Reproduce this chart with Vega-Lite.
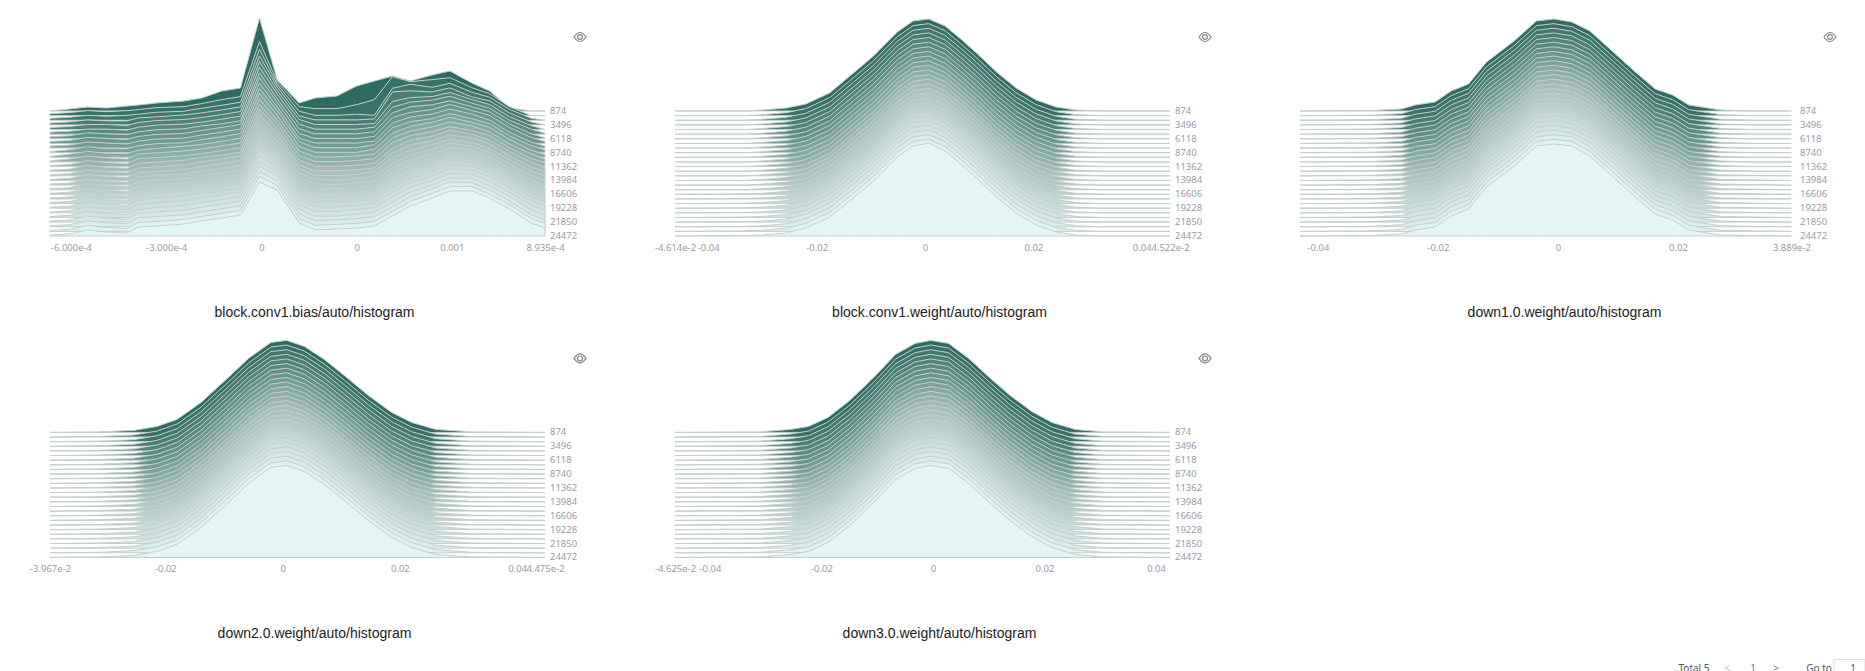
{"$schema":"https://vega.github.io/schema/vega-lite/v6.json","padding":{"left":29,"top":16,"right":0,"bottom":0},"background":"white","columns":3,"spacing":{"row":17.4,"column":65},
"config":{"view":{"stroke":null},"range":{"ordinal":["#2e6b60","#377167","#3f776d","#487d74","#51837a","#598981","#628f88","#6b958e","#739c95","#7ca29b","#85a8a2","#8daea8","#96b4af","#9fbab6","#a5bfbb","#aac3c0","#afc8c4","#b4ccc9","#b8d0cd","#bdd4d1","#c2d8d6","#c6ddda","#cbe1df","#d0e5e3","#d5e9e8","#d9edec","#def2f1","#e3f6f5"]},"axisX":{"domain":false,"ticks":false,"grid":false,"labelColor":"#9a9aa5","labelFont":"Noto Sans","labelFontSize":9.5,"labelOverlap":false,"labelFlush":false,"labelPadding":5,"labelAngle":0,"titleFont":"Liberation Sans","titleFontSize":14,"titleFontWeight":"normal","titleColor":"#222222","titlePadding":61,"titleX":264,"titleBaseline":"middle"},"header":{"title":null}},
"data":{"values":[
{"p":1,"x":-6.66e-4,"A":0,"B":2,"C":2,"D":2,"E":2,"F":2,"G":2,"H":2,"I":2,"J":1,"K":1,"L":1,"M":1,"N":1,"O":1,"P":1,"Q":1,"R":1,"S":1,"T":1,"U":1,"V":1,"W":1,"X":1,"Y":1,"Z":1,"a":1,"b":1},
{"p":1,"x":-6.06e-4,"A":2,"B":3,"C":3,"D":3,"E":3,"F":3,"G":3,"H":3,"I":3,"J":3,"K":3,"L":3,"M":2,"N":2,"O":2,"P":2,"Q":2,"R":2,"S":2,"T":2,"U":2,"V":2,"W":2,"X":2,"Y":2,"Z":2,"a":2,"b":2},
{"p":1,"x":-5.48e-4,"A":4,"B":5,"C":5,"D":5,"E":5,"F":5,"G":6,"H":6,"I":6,"J":6,"K":6,"L":6,"M":6,"N":6,"O":6,"P":6,"Q":6,"R":6,"S":6,"T":6,"U":6,"V":6,"W":6,"X":6,"Y":6,"Z":6,"a":6,"b":6},
{"p":1,"x":-4.88e-4,"A":3,"B":4,"C":4,"D":4,"E":5,"F":5,"G":5,"H":5,"I":5,"J":4,"K":4,"L":4,"M":4,"N":4,"O":4,"P":4,"Q":4,"R":4,"S":4,"T":4,"U":4,"V":4,"W":4,"X":4,"Y":4,"Z":4,"a":4,"b":4},
{"p":1,"x":-4.23e-4,"A":5,"B":5,"C":5,"D":4,"E":4,"F":4,"G":4,"H":4,"I":4,"J":4,"K":4,"L":3,"M":3,"N":3,"O":3,"P":3,"Q":3,"R":3,"S":3,"T":3,"U":3,"V":3,"W":3,"X":3,"Y":3,"Z":3,"a":3,"b":3},
{"p":1,"x":-3.88e-4,"A":6,"B":6,"C":6,"D":7,"E":7,"F":7,"G":7,"H":7,"I":7,"J":7,"K":7,"L":8,"M":8,"N":8,"O":8,"P":8,"Q":8,"R":8,"S":8,"T":8,"U":8,"V":8,"W":8,"X":8,"Y":9,"Z":9,"a":9,"b":9},
{"p":1,"x":-3.31e-4,"A":8,"B":8,"C":8,"D":8,"E":9,"F":9,"G":9,"H":9,"I":9,"J":9,"K":9,"L":9,"M":9,"N":9,"O":9,"P":9,"Q":10,"R":10,"S":10,"T":10,"U":10,"V":10,"W":10,"X":10,"Y":10,"Z":10,"a":10,"b":10},
{"p":1,"x":-2.44e-4,"A":10,"B":9,"C":9,"D":10,"E":10,"F":10,"G":10,"H":10,"I":10,"J":10,"K":11,"L":11,"M":11,"N":11,"O":11,"P":11,"Q":11,"R":11,"S":11,"T":11,"U":12,"V":12,"W":12,"X":12,"Y":12,"Z":12,"a":12,"b":12},
{"p":1,"x":-1.88e-4,"A":13,"B":12,"C":12,"D":12,"E":12,"F":12,"G":13,"H":13,"I":13,"J":13,"K":13,"L":13,"M":13,"N":14,"O":14,"P":14,"Q":14,"R":14,"S":14,"T":14,"U":14,"V":15,"W":15,"X":15,"Y":15,"Z":15,"a":15,"b":15},
{"p":1,"x":-1.25e-4,"A":20,"B":16,"C":15,"D":15,"E":15,"F":15,"G":15,"H":16,"I":16,"J":16,"K":16,"L":16,"M":16,"N":16,"O":17,"P":17,"Q":17,"R":17,"S":17,"T":17,"U":17,"V":17,"W":18,"X":18,"Y":18,"Z":18,"a":18,"b":18},
{"p":1,"x":-0.66e-4,"A":23,"B":19,"C":18,"D":18,"E":18,"F":18,"G":18,"H":19,"I":19,"J":19,"K":19,"L":19,"M":19,"N":19,"O":20,"P":20,"Q":20,"R":20,"S":20,"T":20,"U":20,"V":20,"W":21,"X":21,"Y":21,"Z":21,"a":21,"b":21},
{"p":1,"x":-0.06e-4,"A":93,"B":74,"C":71,"D":69,"E":68,"F":67,"G":66,"H":66,"I":65,"J":64,"K":64,"L":63,"M":62,"N":62,"O":61,"P":61,"Q":60,"R":60,"S":59,"T":59,"U":58,"V":58,"W":57,"X":56,"Y":56,"Z":55,"a":55,"b":54},
{"p":1,"x":0.50e-4,"A":31,"B":34,"C":36,"D":38,"E":39,"F":40,"G":40,"H":41,"I":41,"J":42,"K":42,"L":42,"M":43,"N":43,"O":43,"P":44,"Q":44,"R":44,"S":44,"T":45,"U":45,"V":45,"W":45,"X":45,"Y":46,"Z":46,"a":46,"b":46},
{"p":1,"x":1.19e-4,"A":8,"B":9,"C":9,"D":9,"E":10,"F":10,"G":10,"H":10,"I":10,"J":11,"K":11,"L":11,"M":11,"N":11,"O":11,"P":12,"Q":12,"R":12,"S":12,"T":12,"U":12,"V":12,"W":13,"X":13,"Y":13,"Z":13,"a":13,"b":13},
{"p":1,"x":1.69e-4,"A":13,"B":7,"C":5,"D":5,"E":5,"F":5,"G":5,"H":5,"I":5,"J":5,"K":5,"L":5,"M":5,"N":5,"O":5,"P":5,"Q":6,"R":6,"S":6,"T":6,"U":6,"V":6,"W":6,"X":6,"Y":6,"Z":6,"a":6,"b":6},
{"p":1,"x":2.38e-4,"A":15,"B":7,"C":5,"D":5,"E":5,"F":5,"G":5,"H":5,"I":5,"J":5,"K":5,"L":5,"M":5,"N":5,"O":5,"P":5,"Q":5,"R":5,"S":6,"T":6,"U":6,"V":6,"W":6,"X":6,"Y":6,"Z":7,"a":7,"b":7},
{"p":1,"x":3.00e-4,"A":25,"B":11,"C":6,"D":5,"E":5,"F":5,"G":5,"H":5,"I":5,"J":5,"K":5,"L":6,"M":6,"N":6,"O":6,"P":6,"Q":7,"R":7,"S":7,"T":7,"U":7,"V":7,"W":7,"X":8,"Y":8,"Z":8,"a":8,"b":8},
{"p":1,"x":3.56e-4,"A":30,"B":16,"C":5,"D":6,"E":6,"F":7,"G":7,"H":7,"I":7,"J":8,"K":8,"L":8,"M":8,"N":8,"O":8,"P":9,"Q":9,"R":9,"S":9,"T":9,"U":9,"V":9,"W":10,"X":10,"Y":10,"Z":10,"a":10,"b":10},
{"p":1,"x":4.13e-4,"A":35,"B":39,"C":32,"D":33,"E":28,"F":27,"G":26,"H":26,"I":25,"J":25,"K":24,"L":24,"M":24,"N":23,"O":23,"P":23,"Q":22,"R":22,"S":22,"T":22,"U":21,"V":21,"W":21,"X":21,"Y":20,"Z":20,"a":20,"b":20},
{"p":1,"x":4.69e-4,"A":30,"B":34,"C":36,"D":34,"E":32,"F":32,"G":32,"H":31,"I":31,"J":31,"K":31,"L":31,"M":31,"N":31,"O":31,"P":30,"Q":30,"R":30,"S":30,"T":30,"U":30,"V":30,"W":30,"X":30,"Y":30,"Z":30,"a":30,"b":30},
{"p":1,"x":5.38e-4,"A":36,"B":36,"C":33,"D":33,"E":33,"F":34,"G":34,"H":34,"I":34,"J":34,"K":35,"L":35,"M":35,"N":35,"O":35,"P":36,"Q":36,"R":36,"S":36,"T":36,"U":37,"V":37,"W":37,"X":37,"Y":37,"Z":38,"a":38,"b":38},
{"p":1,"x":5.94e-4,"A":40,"B":38,"C":37,"D":37,"E":37,"F":38,"G":38,"H":39,"I":39,"J":39,"K":40,"L":40,"M":40,"N":41,"O":41,"P":41,"Q":42,"R":42,"S":42,"T":43,"U":43,"V":43,"W":44,"X":44,"Y":44,"Z":45,"a":45,"b":45},
{"p":1,"x":6.63e-4,"A":28,"B":28,"C":28,"D":28,"E":30,"F":31,"G":32,"H":33,"I":34,"J":34,"K":35,"L":36,"M":36,"N":37,"O":38,"P":38,"Q":39,"R":40,"S":40,"T":41,"U":41,"V":42,"W":43,"X":43,"Y":44,"Z":44,"a":45,"b":45},
{"p":1,"x":7.19e-4,"A":20,"B":22,"C":23,"D":24,"E":25,"F":26,"G":27,"H":28,"I":28,"J":29,"K":30,"L":30,"M":31,"N":31,"O":32,"P":32,"Q":33,"R":33,"S":34,"T":34,"U":35,"V":35,"W":36,"X":36,"Y":36,"Z":37,"a":37,"b":38},
{"p":1,"x":7.81e-4,"A":3,"B":9,"C":11,"D":12,"E":13,"F":14,"G":15,"H":16,"I":16,"J":17,"K":18,"L":18,"M":19,"N":20,"O":20,"P":21,"Q":21,"R":22,"S":22,"T":23,"U":24,"V":24,"W":25,"X":25,"Y":26,"Z":26,"a":27,"b":27},
{"p":1,"x":8.50e-4,"A":0,"B":0,"C":2,"D":3,"E":4,"F":5,"G":5,"H":6,"I":6,"J":7,"K":7,"L":8,"M":8,"N":9,"O":9,"P":9,"Q":10,"R":10,"S":10,"T":11,"U":11,"V":11,"W":12,"X":12,"Y":12,"Z":12,"a":13,"b":13},
{"p":1,"x":8.935e-4,"A":0,"B":0,"C":0,"D":0,"E":0,"F":1,"G":1,"H":2,"I":2,"J":3,"K":3,"L":3,"M":4,"N":4,"O":4,"P":5,"Q":5,"R":5,"S":6,"T":6,"U":6,"V":6,"W":7,"X":7,"Y":7,"Z":7,"a":8,"b":8},
{"p":2,"x":-0.04614,"A":0,"B":0,"C":0,"D":0,"E":0,"F":0,"G":0,"H":0,"I":0,"J":0,"K":0,"L":0,"M":0,"N":0,"O":0,"P":0,"Q":0,"R":0,"S":0,"T":0,"U":0,"V":0,"W":0,"X":0,"Y":0,"Z":0,"a":0,"b":0},
{"p":2,"x":-0.033,"A":0,"B":0,"C":0,"D":0,"E":0,"F":0,"G":0,"H":0,"I":0,"J":0,"K":0,"L":0,"M":0,"N":0,"O":0,"P":0,"Q":0,"R":0,"S":0.5,"T":0.5,"U":0.5,"V":0.5,"W":0.5,"X":0.5,"Y":0.5,"Z":0.5,"a":0.5,"b":0.5},
{"p":2,"x":-0.03,"A":1,"B":1,"C":1,"D":1,"E":1,"F":1,"G":1,"H":1,"I":1,"J":1,"K":1,"L":1,"M":1,"N":1,"O":1,"P":1,"Q":1,"R":1,"S":1,"T":1,"U":1,"V":1,"W":1,"X":1,"Y":1,"Z":1,"a":1,"b":1},
{"p":2,"x":-0.0256,"A":3,"B":3,"C":3,"D":3,"E":3,"F":3,"G":3,"H":3,"I":3,"J":3,"K":3,"L":3,"M":3,"N":3,"O":3,"P":3,"Q":3,"R":3,"S":3,"T":3,"U":3,"V":3,"W":3,"X":3,"Y":3,"Z":3,"a":3,"b":3},
{"p":2,"x":-0.022,"A":7,"B":7,"C":7,"D":7,"E":7,"F":7,"G":7,"H":7,"I":7,"J":7,"K":7,"L":7,"M":7,"N":7,"O":7,"P":7,"Q":7,"R":7,"S":7,"T":7,"U":7,"V":7,"W":7,"X":7,"Y":8,"Z":8,"a":8,"b":8},
{"p":2,"x":-0.0176,"A":18,"B":18,"C":18,"D":18,"E":18,"F":18,"G":18,"H":18,"I":18,"J":18,"K":18,"L":18,"M":18,"N":18,"O":19,"P":19,"Q":19,"R":19,"S":19,"T":19,"U":19,"V":19,"W":19,"X":19,"Y":19,"Z":19,"a":19,"b":19},
{"p":2,"x":-0.0132,"A":38,"B":38,"C":38,"D":38,"E":38,"F":38,"G":38,"H":38,"I":38,"J":38,"K":38,"L":38,"M":38,"N":38,"O":38,"P":38,"Q":38,"R":38,"S":38,"T":38,"U":38,"V":38,"W":38,"X":38,"Y":38,"Z":38,"a":38,"b":38},
{"p":2,"x":-0.0095,"A":55,"B":55,"C":55,"D":55,"E":55,"F":55,"G":55,"H":55,"I":55,"J":55,"K":55,"L":55,"M":55,"N":55,"O":55,"P":55,"Q":55,"R":55,"S":55,"T":55,"U":55,"V":55,"W":55,"X":55,"Y":55,"Z":55,"a":55,"b":55},
{"p":2,"x":-0.0051,"A":79,"B":79,"C":79,"D":79,"E":79,"F":79,"G":79,"H":79,"I":79,"J":79,"K":79,"L":79,"M":79,"N":79,"O":79,"P":79,"Q":79,"R":79,"S":79,"T":79,"U":79,"V":79,"W":79,"X":79,"Y":79,"Z":79,"a":79,"b":79},
{"p":2,"x":-0.0022,"A":90,"B":90,"C":90,"D":90,"E":90,"F":90,"G":90,"H":90,"I":90,"J":90,"K":90,"L":90,"M":90,"N":90,"O":90,"P":90,"Q":90,"R":90,"S":90,"T":90,"U":90,"V":90,"W":90,"X":90,"Y":90,"Z":90,"a":90,"b":90},
{"p":2,"x":0.0007,"A":92,"B":92,"C":92,"D":92,"E":92,"F":92,"G":92,"H":92,"I":92,"J":92,"K":92,"L":92,"M":92,"N":92,"O":92,"P":92,"Q":92,"R":92,"S":92,"T":92,"U":92,"V":92,"W":92,"X":92,"Y":92,"Z":92,"a":92,"b":93},
{"p":2,"x":0.0037,"A":85,"B":85,"C":85,"D":85,"E":85,"F":85,"G":85,"H":85,"I":85,"J":85,"K":85,"L":85,"M":85,"N":85,"O":85,"P":85,"Q":85,"R":85,"S":85,"T":85,"U":85,"V":85,"W":85,"X":85,"Y":85,"Z":85,"a":85,"b":85},
{"p":2,"x":0.0066,"A":72,"B":72,"C":72,"D":72,"E":72,"F":72,"G":72,"H":72,"I":72,"J":72,"K":72,"L":72,"M":72,"N":72,"O":72,"P":72,"Q":72,"R":72,"S":72,"T":72,"U":72,"V":72,"W":72,"X":72,"Y":72,"Z":72,"a":72,"b":72},
{"p":2,"x":0.0095,"A":58,"B":58,"C":58,"D":58,"E":58,"F":58,"G":58,"H":58,"I":58,"J":58,"K":58,"L":58,"M":58,"N":58,"O":58,"P":58,"Q":58,"R":58,"S":58,"T":58,"U":58,"V":58,"W":58,"X":58,"Y":58,"Z":58,"a":58,"b":58},
{"p":2,"x":0.0132,"A":39,"B":39,"C":39,"D":39,"E":39,"F":39,"G":39,"H":39,"I":39,"J":39,"K":39,"L":39,"M":39,"N":39,"O":39,"P":39,"Q":39,"R":39,"S":39,"T":39,"U":39,"V":39,"W":39,"X":39,"Y":39,"Z":39,"a":39,"b":39},
{"p":2,"x":0.0168,"A":23,"B":23,"C":23,"D":23,"E":23,"F":23,"G":23,"H":23,"I":23,"J":23,"K":23,"L":23,"M":23,"N":23,"O":23,"P":23,"Q":23,"R":23,"S":23,"T":23,"U":23,"V":23,"W":23,"X":23,"Y":23,"Z":23,"a":23,"b":23},
{"p":2,"x":0.0205,"A":11,"B":11,"C":11,"D":11,"E":11,"F":11,"G":11,"H":11,"I":11,"J":11,"K":11,"L":11,"M":11,"N":11,"O":11,"P":11,"Q":11,"R":11,"S":11,"T":11,"U":11,"V":11,"W":11,"X":11,"Y":11,"Z":11,"a":11,"b":11},
{"p":2,"x":0.0242,"A":4,"B":4,"C":4,"D":4,"E":4,"F":4,"G":4,"H":4,"I":4,"J":4,"K":4,"L":4,"M":4,"N":4,"O":4,"P":4,"Q":4,"R":4,"S":4,"T":4,"U":4,"V":4,"W":4,"X":4,"Y":4,"Z":4,"a":4,"b":4},
{"p":2,"x":0.0278,"A":1,"B":1,"C":1,"D":1,"E":1,"F":1,"G":1,"H":1,"I":1,"J":1,"K":1,"L":1,"M":1,"N":1,"O":1,"P":1,"Q":1,"R":1,"S":1,"T":1,"U":1,"V":1,"W":1,"X":1,"Y":1,"Z":1,"a":1,"b":1},
{"p":2,"x":0.033,"A":0,"B":0,"C":0,"D":0,"E":0,"F":0,"G":0,"H":0,"I":0,"J":0,"K":0,"L":0,"M":0,"N":0,"O":0,"P":0,"Q":0,"R":0,"S":0,"T":0,"U":0,"V":0,"W":0,"X":0,"Y":0,"Z":0,"a":0,"b":0},
{"p":2,"x":0.04522,"A":0,"B":0,"C":0,"D":0,"E":0,"F":0,"G":0,"H":0,"I":0,"J":0,"K":0,"L":0,"M":0,"N":0,"O":0,"P":0,"Q":0,"R":0,"S":0,"T":0,"U":0,"V":0,"W":0,"X":0,"Y":0,"Z":0,"a":0,"b":0},
{"p":3,"x":-0.043,"A":0,"B":0,"C":0,"D":0,"E":0,"F":0,"G":0,"H":0,"I":0,"J":0,"K":0,"L":0,"M":0,"N":0,"O":0,"P":0,"Q":0,"R":0,"S":0,"T":0,"U":0,"V":0,"W":0,"X":0,"Y":0,"Z":0,"a":0,"b":0},
{"p":3,"x":-0.031,"A":0.5,"B":0.5,"C":0.5,"D":0.5,"E":0.5,"F":0.5,"G":0.5,"H":0.5,"I":0.5,"J":0.5,"K":0.5,"L":0.5,"M":0.5,"N":0.5,"O":0.5,"P":0.5,"Q":0.5,"R":0.5,"S":0.5,"T":0.5,"U":0.5,"V":0.5,"W":0.5,"X":0.5,"Y":0.5,"Z":0.5,"a":0.5,"b":0.5},
{"p":3,"x":-0.0261,"A":2,"B":2,"C":2,"D":2,"E":2,"F":2,"G":2,"H":2,"I":2,"J":2,"K":2,"L":2,"M":2,"N":2,"O":2,"P":2,"Q":2,"R":2,"S":2,"T":2,"U":2,"V":2,"W":2,"X":2,"Y":2,"Z":2,"a":2,"b":2},
{"p":3,"x":-0.0238,"A":6,"B":6,"C":6,"D":6,"E":6,"F":6,"G":6,"H":6,"I":6,"J":6,"K":6,"L":6,"M":6,"N":6,"O":6,"P":6,"Q":6,"R":6,"S":6,"T":6,"U":6,"V":6,"W":6,"X":6,"Y":6,"Z":6,"a":6,"b":6},
{"p":3,"x":-0.0205,"A":9,"B":9,"C":9,"D":9,"E":9,"F":9,"G":9,"H":9,"I":9,"J":9,"K":9,"L":9,"M":9,"N":9,"O":9,"P":9,"Q":9,"R":9,"S":9,"T":9,"U":9,"V":9,"W":9,"X":9,"Y":9,"Z":9,"a":9,"b":9},
{"p":3,"x":-0.0178,"A":20,"B":20,"C":20,"D":20,"E":20,"F":20,"G":20,"H":20,"I":20,"J":20,"K":20,"L":20,"M":20,"N":20,"O":20,"P":20,"Q":20,"R":20,"S":20,"T":20,"U":20,"V":20,"W":20,"X":20,"Y":20,"Z":20,"a":20,"b":20},
{"p":3,"x":-0.0149,"A":27,"B":27,"C":27,"D":27,"E":27,"F":27,"G":27,"H":27,"I":27,"J":27,"K":27,"L":27,"M":27,"N":27,"O":27,"P":27,"Q":27,"R":27,"S":27,"T":27,"U":27,"V":27,"W":27,"X":27,"Y":27,"Z":27,"a":27,"b":27},
{"p":3,"x":-0.0119,"A":49,"B":49,"C":49,"D":49,"E":49,"F":49,"G":49,"H":49,"I":49,"J":49,"K":49,"L":49,"M":49,"N":49,"O":49,"P":49,"Q":49,"R":49,"S":49,"T":49,"U":49,"V":49,"W":49,"X":49,"Y":49,"Z":49,"a":49,"b":49},
{"p":3,"x":-0.0073,"A":70,"B":70,"C":70,"D":70,"E":70,"F":70,"G":70,"H":70,"I":70,"J":70,"K":70,"L":70,"M":70,"N":70,"O":70,"P":70,"Q":70,"R":70,"S":70,"T":70,"U":70,"V":70,"W":70,"X":70,"Y":70,"Z":70,"a":70,"b":70},
{"p":3,"x":-0.0036,"A":90,"B":90,"C":90,"D":90,"E":90,"F":90,"G":90,"H":90,"I":90,"J":90,"K":90,"L":90,"M":90,"N":90,"O":90,"P":90,"Q":90,"R":90,"S":90,"T":90,"U":90,"V":90,"W":90,"X":90,"Y":90,"Z":90,"a":90,"b":90},
{"p":3,"x":-0.0007,"A":92,"B":92,"C":92,"D":92,"E":92,"F":92,"G":92,"H":92,"I":92,"J":92,"K":92,"L":92,"M":92,"N":92,"O":92,"P":92,"Q":92,"R":92,"S":92,"T":92,"U":92,"V":92,"W":92,"X":92,"Y":92,"Z":92,"a":92,"b":92},
{"p":3,"x":0.0023,"A":89,"B":89,"C":89,"D":89,"E":89,"F":89,"G":89,"H":89,"I":89,"J":89,"K":89,"L":89,"M":89,"N":89,"O":89,"P":89,"Q":89,"R":89,"S":89,"T":89,"U":89,"V":89,"W":89,"X":89,"Y":89,"Z":90,"a":90,"b":90},
{"p":3,"x":0.0053,"A":80,"B":80,"C":80,"D":80,"E":80,"F":80,"G":80,"H":80,"I":80,"J":80,"K":80,"L":80,"M":80,"N":80,"O":80,"P":80,"Q":80,"R":80,"S":80,"T":80,"U":80,"V":80,"W":80,"X":80,"Y":80,"Z":80,"a":80,"b":80},
{"p":3,"x":0.0092,"A":59,"B":59,"C":59,"D":59,"E":59,"F":59,"G":59,"H":59,"I":59,"J":59,"K":59,"L":59,"M":59,"N":59,"O":59,"P":59,"Q":59,"R":59,"S":59,"T":59,"U":59,"V":59,"W":59,"X":59,"Y":59,"Z":59,"a":59,"b":59},
{"p":3,"x":0.0125,"A":41,"B":41,"C":41,"D":41,"E":41,"F":41,"G":41,"H":41,"I":41,"J":41,"K":41,"L":41,"M":41,"N":41,"O":41,"P":41,"Q":41,"R":41,"S":41,"T":41,"U":41,"V":41,"W":41,"X":41,"Y":41,"Z":41,"a":41,"b":41},
{"p":3,"x":0.0162,"A":22,"B":22,"C":22,"D":22,"E":22,"F":22,"G":22,"H":22,"I":22,"J":22,"K":22,"L":22,"M":22,"N":22,"O":22,"P":22,"Q":22,"R":22,"S":22,"T":22,"U":22,"V":22,"W":22,"X":22,"Y":22,"Z":22,"a":22,"b":22},
{"p":3,"x":0.0191,"A":16,"B":16,"C":16,"D":16,"E":16,"F":16,"G":16,"H":16,"I":16,"J":16,"K":16,"L":16,"M":16,"N":16,"O":16,"P":16,"Q":16,"R":16,"S":16,"T":16,"U":16,"V":16,"W":16,"X":16,"Y":16,"Z":16,"a":16,"b":16},
{"p":3,"x":0.0218,"A":6,"B":6,"C":6,"D":6,"E":6,"F":6,"G":6,"H":6,"I":6,"J":6,"K":6,"L":6,"M":6,"N":6,"O":6,"P":6,"Q":6,"R":6,"S":6,"T":6,"U":6,"V":6,"W":6,"X":6,"Y":6,"Z":6,"a":6,"b":6},
{"p":3,"x":0.0271,"A":1,"B":1,"C":1,"D":1,"E":1,"F":1,"G":1,"H":1,"I":1,"J":1,"K":1,"L":1,"M":1,"N":1,"O":1,"P":1,"Q":1,"R":1,"S":1,"T":1,"U":1,"V":1,"W":1,"X":1,"Y":1,"Z":1,"a":1,"b":1},
{"p":3,"x":0.0323,"A":0,"B":0,"C":0,"D":0,"E":0,"F":0,"G":0,"H":0,"I":0,"J":0,"K":0,"L":0,"M":0,"N":0,"O":0.5,"P":0.5,"Q":0.5,"R":0.5,"S":0.5,"T":0.5,"U":0.5,"V":0.5,"W":0.5,"X":0.5,"Y":0.5,"Z":0.5,"a":0.5,"b":0.5},
{"p":3,"x":0.03889,"A":0,"B":0,"C":0,"D":0,"E":0,"F":0,"G":0,"H":0,"I":0,"J":0,"K":0,"L":0,"M":0,"N":0,"O":0,"P":0,"Q":0,"R":0,"S":0,"T":0,"U":0,"V":0,"W":0,"X":0,"Y":0,"Z":0,"a":0,"b":0},
{"p":4,"x":-0.03967,"A":0,"B":0,"C":0,"D":0,"E":0,"F":0,"G":0,"H":0,"I":0,"J":0,"K":0,"L":0,"M":0,"N":0,"O":0,"P":0,"Q":0,"R":0,"S":0,"T":0,"U":0,"V":0,"W":0,"X":0,"Y":0,"Z":0,"a":0,"b":0},
{"p":4,"x":-0.0315,"A":0.5,"B":0.5,"C":0.5,"D":0.5,"E":0.5,"F":0.5,"G":0.5,"H":0.5,"I":0.5,"J":0.5,"K":0.5,"L":0.5,"M":0.5,"N":0.5,"O":0.5,"P":0.5,"Q":0.5,"R":0.5,"S":0.5,"T":0.5,"U":0.5,"V":0.5,"W":0.5,"X":0.5,"Y":0.5,"Z":0.5,"a":0.5,"b":0.5},
{"p":4,"x":-0.0254,"A":2,"B":2,"C":2,"D":2,"E":2,"F":2,"G":2,"H":2,"I":2,"J":2,"K":2,"L":2,"M":2,"N":2,"O":2,"P":2,"Q":2,"R":2,"S":2,"T":2,"U":2,"V":2,"W":2,"X":2,"Y":2,"Z":2,"a":2,"b":2},
{"p":4,"x":-0.0214,"A":6,"B":6,"C":6,"D":6,"E":6,"F":6,"G":6,"H":6,"I":6,"J":6,"K":6,"L":6,"M":6,"N":6,"O":6,"P":6,"Q":6,"R":6,"S":6,"T":6,"U":6,"V":6,"W":6,"X":6,"Y":6,"Z":6,"a":6,"b":6},
{"p":4,"x":-0.018,"A":13,"B":13,"C":13,"D":13,"E":13,"F":13,"G":13,"H":13,"I":13,"J":13,"K":13,"L":13,"M":13,"N":13,"O":13,"P":13,"Q":13,"R":13,"S":13,"T":13,"U":13,"V":13,"W":13,"X":13,"Y":13,"Z":13,"a":13,"b":13},
{"p":4,"x":-0.0139,"A":30,"B":30,"C":30,"D":30,"E":30,"F":30,"G":30,"H":30,"I":30,"J":30,"K":30,"L":30,"M":30,"N":30,"O":30,"P":30,"Q":30,"R":30,"S":30,"T":30,"U":30,"V":30,"W":30,"X":30,"Y":30,"Z":30,"a":30,"b":30},
{"p":4,"x":-0.0098,"A":52,"B":52,"C":52,"D":52,"E":52,"F":52,"G":52,"H":52,"I":52,"J":52,"K":52,"L":52,"M":52,"N":52,"O":52,"P":52,"Q":52,"R":52,"S":52,"T":52,"U":52,"V":52,"W":52,"X":52,"Y":52,"Z":52,"a":52,"b":52},
{"p":4,"x":-0.0058,"A":74,"B":74,"C":74,"D":74,"E":74,"F":74,"G":74,"H":74,"I":74,"J":74,"K":74,"L":74,"M":74,"N":74,"O":74,"P":74,"Q":74,"R":74,"S":74,"T":74,"U":74,"V":74,"W":74,"X":74,"Y":74,"Z":74,"a":74,"b":74},
{"p":4,"x":-0.002,"A":90,"B":90,"C":90,"D":90,"E":90,"F":90,"G":90,"H":90,"I":90,"J":90,"K":90,"L":90,"M":90,"N":90,"O":90,"P":90,"Q":90,"R":90,"S":90,"T":90,"U":90,"V":90,"W":90,"X":90,"Y":90,"Z":90,"a":90,"b":90},
{"p":4,"x":0.0007,"A":92,"B":92,"C":92,"D":92,"E":92,"F":92,"G":92,"H":92,"I":92,"J":92,"K":92,"L":92,"M":92,"N":92,"O":92,"P":92,"Q":92,"R":92,"S":92,"T":92,"U":92,"V":92,"W":92,"X":92,"Y":92,"Z":92,"a":92,"b":92},
{"p":4,"x":0.0037,"A":86,"B":86,"C":86,"D":86,"E":86,"F":86,"G":86,"H":86,"I":86,"J":86,"K":86,"L":86,"M":86,"N":86,"O":86,"P":86,"Q":86,"R":86,"S":86,"T":86,"U":86,"V":86,"W":86,"X":86,"Y":86,"Z":86,"a":86,"b":86},
{"p":4,"x":0.0071,"A":73,"B":73,"C":73,"D":73,"E":73,"F":73,"G":73,"H":73,"I":73,"J":73,"K":73,"L":73,"M":73,"N":73,"O":73,"P":73,"Q":73,"R":73,"S":73,"T":73,"U":73,"V":73,"W":73,"X":73,"Y":73,"Z":73,"a":73,"b":73},
{"p":4,"x":0.0105,"A":57,"B":57,"C":57,"D":57,"E":57,"F":57,"G":57,"H":57,"I":57,"J":57,"K":57,"L":57,"M":57,"N":57,"O":57,"P":57,"Q":57,"R":57,"S":57,"T":57,"U":57,"V":57,"W":57,"X":57,"Y":57,"Z":57,"a":57,"b":57},
{"p":4,"x":0.0146,"A":37,"B":37,"C":37,"D":37,"E":37,"F":37,"G":37,"H":37,"I":37,"J":37,"K":37,"L":37,"M":37,"N":37,"O":37,"P":37,"Q":37,"R":37,"S":37,"T":37,"U":37,"V":37,"W":37,"X":37,"Y":37,"Z":37,"a":37,"b":37},
{"p":4,"x":0.0186,"A":20,"B":20,"C":20,"D":20,"E":20,"F":20,"G":20,"H":20,"I":20,"J":20,"K":20,"L":20,"M":20,"N":20,"O":20,"P":20,"Q":20,"R":20,"S":20,"T":20,"U":20,"V":20,"W":20,"X":20,"Y":20,"Z":20,"a":20,"b":20},
{"p":4,"x":0.022,"A":10,"B":10,"C":10,"D":10,"E":10,"F":10,"G":10,"H":10,"I":10,"J":10,"K":10,"L":10,"M":10,"N":10,"O":10,"P":10,"Q":10,"R":10,"S":10,"T":10,"U":10,"V":10,"W":10,"X":10,"Y":10,"Z":10,"a":10,"b":10},
{"p":4,"x":0.0261,"A":3,"B":3,"C":3,"D":3,"E":3,"F":3,"G":3,"H":3,"I":3,"J":3,"K":3,"L":3,"M":3,"N":3,"O":3,"P":3,"Q":3,"R":3,"S":3,"T":3,"U":3,"V":3,"W":3,"X":3,"Y":3,"Z":3,"a":3,"b":3},
{"p":4,"x":0.0322,"A":0.5,"B":0.5,"C":0.5,"D":0.5,"E":0.5,"F":0.5,"G":0.5,"H":0.5,"I":0.5,"J":0.5,"K":0.5,"L":0.5,"M":0.5,"N":0.5,"O":0.5,"P":0.5,"Q":0.5,"R":0.5,"S":0.5,"T":0.5,"U":0.5,"V":0.5,"W":0.5,"X":0.5,"Y":0.5,"Z":0.5,"a":0.5,"b":0.5},
{"p":4,"x":0.04475,"A":0,"B":0,"C":0,"D":0,"E":0,"F":0,"G":0,"H":0,"I":0,"J":0,"K":0,"L":0,"M":0,"N":0,"O":0,"P":0,"Q":0,"R":0,"S":0,"T":0,"U":0,"V":0,"W":0,"X":0,"Y":0,"Z":0,"a":0,"b":0},
{"p":5,"x":-0.04625,"A":0,"B":0,"C":0,"D":0,"E":0,"F":0,"G":0,"H":0,"I":0,"J":0,"K":0,"L":0,"M":0,"N":0,"O":0,"P":0,"Q":0,"R":0,"S":0,"T":0,"U":0,"V":0,"W":0,"X":0,"Y":0,"Z":0,"a":0,"b":0},
{"p":5,"x":-0.0312,"A":0.5,"B":0.5,"C":0.5,"D":0.5,"E":0.5,"F":0.5,"G":0.5,"H":0.5,"I":0.5,"J":0.5,"K":0.5,"L":0.5,"M":0.5,"N":0.5,"O":0.5,"P":0.5,"Q":0.5,"R":0.5,"S":0.5,"T":0.5,"U":0.5,"V":0.5,"W":0.5,"X":0.5,"Y":0.5,"Z":0.5,"a":0.5,"b":0.5},
{"p":5,"x":-0.0255,"A":3,"B":3,"C":3,"D":3,"E":3,"F":3,"G":3,"H":3,"I":3,"J":3,"K":3,"L":3,"M":3,"N":3,"O":3,"P":3,"Q":3,"R":3,"S":3,"T":3,"U":3,"V":3,"W":3,"X":3,"Y":3,"Z":3,"a":3,"b":3},
{"p":5,"x":-0.0223,"A":6,"B":6,"C":6,"D":6,"E":6,"F":6,"G":6,"H":6,"I":6,"J":6,"K":6,"L":6,"M":6,"N":6,"O":6,"P":6,"Q":6,"R":6,"S":6,"T":6,"U":6,"V":6,"W":6,"X":6,"Y":6,"Z":6,"a":6,"b":6},
{"p":5,"x":-0.0188,"A":15,"B":15,"C":15,"D":15,"E":15,"F":15,"G":15,"H":15,"I":15,"J":15,"K":15,"L":15,"M":15,"N":15,"O":15,"P":15,"Q":15,"R":15,"S":15,"T":15,"U":15,"V":15,"W":15,"X":15,"Y":15,"Z":15,"a":15,"b":15},
{"p":5,"x":-0.0149,"A":32,"B":32,"C":32,"D":32,"E":32,"F":32,"G":32,"H":32,"I":32,"J":32,"K":32,"L":32,"M":32,"N":32,"O":32,"P":32,"Q":32,"R":32,"S":32,"T":32,"U":32,"V":32,"W":32,"X":32,"Y":32,"Z":32,"a":32,"b":32},
{"p":5,"x":-0.0106,"A":55,"B":55,"C":55,"D":55,"E":55,"F":55,"G":55,"H":55,"I":55,"J":55,"K":55,"L":55,"M":55,"N":55,"O":55,"P":55,"Q":55,"R":55,"S":55,"T":55,"U":55,"V":55,"W":55,"X":55,"Y":55,"Z":55,"a":55,"b":55},
{"p":5,"x":-0.0067,"A":78,"B":78,"C":78,"D":78,"E":78,"F":78,"G":78,"H":78,"I":78,"J":78,"K":78,"L":78,"M":78,"N":78,"O":78,"P":78,"Q":78,"R":78,"S":78,"T":78,"U":78,"V":78,"W":78,"X":78,"Y":78,"Z":78,"a":78,"b":78},
{"p":5,"x":-0.0032,"A":89,"B":89,"C":89,"D":89,"E":89,"F":89,"G":89,"H":89,"I":89,"J":89,"K":89,"L":89,"M":89,"N":89,"O":89,"P":89,"Q":89,"R":89,"S":89,"T":89,"U":89,"V":89,"W":89,"X":89,"Y":89,"Z":89,"a":89,"b":89},
{"p":5,"x":-0.0004,"A":92,"B":92,"C":92,"D":92,"E":92,"F":92,"G":92,"H":92,"I":92,"J":92,"K":92,"L":92,"M":92,"N":92,"O":92,"P":92,"Q":92,"R":92,"S":92,"T":92,"U":92,"V":92,"W":92,"X":92,"Y":92,"Z":92,"a":92,"b":92},
{"p":5,"x":0.0028,"A":89,"B":89,"C":89,"D":89,"E":89,"F":89,"G":89,"H":89,"I":89,"J":89,"K":89,"L":89,"M":89,"N":89,"O":89,"P":89,"Q":89,"R":89,"S":89,"T":89,"U":89,"V":89,"W":89,"X":89,"Y":89,"Z":89,"a":89,"b":89},
{"p":5,"x":0.0064,"A":74,"B":74,"C":74,"D":74,"E":74,"F":74,"G":74,"H":74,"I":74,"J":74,"K":74,"L":74,"M":74,"N":74,"O":74,"P":74,"Q":74,"R":74,"S":74,"T":74,"U":74,"V":74,"W":74,"X":74,"Y":74,"Z":74,"a":74,"b":74},
{"p":5,"x":0.0103,"A":54,"B":54,"C":54,"D":54,"E":54,"F":54,"G":54,"H":54,"I":54,"J":54,"K":54,"L":54,"M":54,"N":54,"O":54,"P":54,"Q":54,"R":54,"S":54,"T":54,"U":54,"V":54,"W":54,"X":54,"Y":54,"Z":54,"a":54,"b":54},
{"p":5,"x":0.0138,"A":37,"B":37,"C":37,"D":37,"E":37,"F":37,"G":37,"H":37,"I":37,"J":37,"K":37,"L":37,"M":37,"N":37,"O":37,"P":37,"Q":37,"R":37,"S":37,"T":37,"U":37,"V":37,"W":37,"X":37,"Y":37,"Z":37,"a":37,"b":37},
{"p":5,"x":0.0177,"A":21,"B":21,"C":21,"D":21,"E":21,"F":21,"G":21,"H":21,"I":21,"J":21,"K":21,"L":21,"M":21,"N":21,"O":21,"P":21,"Q":21,"R":21,"S":21,"T":21,"U":21,"V":21,"W":21,"X":21,"Y":21,"Z":21,"a":21,"b":21},
{"p":5,"x":0.0213,"A":10,"B":10,"C":10,"D":10,"E":10,"F":10,"G":10,"H":10,"I":10,"J":10,"K":10,"L":10,"M":10,"N":10,"O":10,"P":10,"Q":10,"R":10,"S":10,"T":10,"U":10,"V":10,"W":10,"X":10,"Y":10,"Z":10,"a":10,"b":10},
{"p":5,"x":0.0255,"A":3,"B":3,"C":3,"D":3,"E":3,"F":3,"G":3,"H":3,"I":3,"J":3,"K":3,"L":3,"M":3,"N":3,"O":3,"P":3,"Q":3,"R":3,"S":3,"T":3,"U":3,"V":3,"W":3,"X":3,"Y":3,"Z":3,"a":3,"b":3},
{"p":5,"x":0.0305,"A":0.5,"B":0.5,"C":0.5,"D":0.5,"E":0.5,"F":0.5,"G":0.5,"H":0.5,"I":0.5,"J":0.5,"K":0.5,"L":0.5,"M":0.5,"N":0.5,"O":0.5,"P":0.5,"Q":0.5,"R":0.5,"S":0.5,"T":0.5,"U":0.5,"V":0.5,"W":0.5,"X":0.5,"Y":0.5,"Z":0.5,"a":0.5,"b":0.5},
{"p":5,"x":0.0425,"A":0,"B":0,"C":0,"D":0,"E":0,"F":0,"G":0,"H":0,"I":0,"J":0,"K":0,"L":0,"M":0,"N":0,"O":0,"P":0,"Q":0,"R":0,"S":0,"T":0,"U":0,"V":0,"W":0,"X":0,"Y":0,"Z":0,"a":0,"b":0}
]},
"transform":[{"fold":["A","B","C","D","E","F","G","H","I","J","K","L","M","N","O","P","Q","R","S","T","U","V","W","X","Y","Z","a","b"],"as":["k","v"]}],
"concat":[
{"transform":[{"filter":"datum.p==1"}],"bounds":"flush","spacing":0.63,"facet":{"row":{"field":"k","type":"ordinal","title":null,"header":{"labelAngle":0,"labelOrient":"right","labelAlign":"right","labelAnchor":"end","labelBaseline":"middle","labelPadding":5,"labelColor":"#9a9aa5","labelFont":"Noto Sans","labelFontSize":9.5,"labelExpr":"{A:'874',D:'3496',G:'6118',J:'8740',M:'11362',P:'13984',S:'16606',V:'19228',Y:'21850',b:'24472'}[datum.value]||''"}}},
"spec":{"width":495,"height":4,"layer":[
{"mark":{"type":"area","stroke":"#c5cfcd","strokeWidth":1},"encoding":{"x":{"field":"x","type":"quantitative","scale":{"domain":[-6.66e-4,8.935e-4],"nice":false,"zero":false},"axis":{"title":"block.conv1.bias/auto/histogram","values":[-6e-4,-3e-4,0,3e-4,6e-4,8.935e-4],"labelExpr":"datum.value==-6e-4?'-6.000e-4':datum.value==-3e-4?'-3.000e-4':datum.value==6e-4?'0.001':datum.value==8.935e-4?'8.935e-4':'0'"}},"y":{"field":"v","type":"quantitative","axis":null,"scale":{"domain":[0,100],"range":[4,-96]}},"color":{"field":"k","type":"ordinal","legend":null}}},
{"transform":[{"filter":"datum.k=='A'&&datum.x==-6.66e-4"}],"mark":{"type":"point","shape":"M-1,0Q0,-1.5,1,0Q0,1.5,-1,0ZM-0.4,0A0.4,0.4,0,1,0,0.4,0A0.4,0.4,0,1,0,-0.4,0Z","filled":false,"stroke":"#555555","strokeWidth":1.2,"size":144},"encoding":{"x":{"datum":1.0038e-3,"type":"quantitative"},"y":{"datum":74,"type":"quantitative"}}}
]}},
{"transform":[{"filter":"datum.p==2"}],"bounds":"flush","spacing":0.63,"facet":{"row":{"field":"k","type":"ordinal","title":null,"header":{"labelAngle":0,"labelOrient":"right","labelAlign":"right","labelAnchor":"end","labelBaseline":"middle","labelPadding":5,"labelColor":"#9a9aa5","labelFont":"Noto Sans","labelFontSize":9.5,"labelExpr":"{A:'874',D:'3496',G:'6118',J:'8740',M:'11362',P:'13984',S:'16606',V:'19228',Y:'21850',b:'24472'}[datum.value]||''"}}},
"spec":{"width":495,"height":4,"layer":[
{"mark":{"type":"area","stroke":"#c5cfcd","strokeWidth":1},"encoding":{"x":{"field":"x","type":"quantitative","scale":{"domain":[-0.04614,0.04522],"nice":false,"zero":false},"axis":{"title":"block.conv1.weight/auto/histogram","values":[-0.04614,-0.04,-0.02,0,0.02,0.04,0.04522],"labelExpr":"datum.value==-0.04614?'-4.614e-2':datum.value==-0.04?'-0.04':datum.value==-0.02?'-0.02':datum.value==0?'0':datum.value==0.02?'0.02':datum.value==0.04?'0.04':'4.522e-2'"}},"y":{"field":"v","type":"quantitative","axis":null,"scale":{"domain":[0,100],"range":[4,-96]}},"color":{"field":"k","type":"ordinal","legend":null}}},
{"transform":[{"filter":"datum.k=='A'&&datum.x==-0.04614"}],"mark":{"type":"point","shape":"M-1,0Q0,-1.5,1,0Q0,1.5,-1,0ZM-0.4,0A0.4,0.4,0,1,0,0.4,0A0.4,0.4,0,1,0,-0.4,0Z","filled":false,"stroke":"#555555","strokeWidth":1.2,"size":144},"encoding":{"x":{"datum":0.05168,"type":"quantitative"},"y":{"datum":74,"type":"quantitative"}}}
]}},
{"transform":[{"filter":"datum.p==3"}],"bounds":"flush","spacing":0.63,"facet":{"row":{"field":"k","type":"ordinal","title":null,"header":{"labelAngle":0,"labelOrient":"right","labelAlign":"right","labelAnchor":"end","labelBaseline":"middle","labelPadding":5,"labelColor":"#9a9aa5","labelFont":"Noto Sans","labelFontSize":9.5,"labelExpr":"{A:'874',D:'3496',G:'6118',J:'8740',M:'11362',P:'13984',S:'16606',V:'19228',Y:'21850',b:'24472'}[datum.value]||''"}}},
"spec":{"width":495,"height":4,"layer":[
{"mark":{"type":"area","stroke":"#c5cfcd","strokeWidth":1},"encoding":{"x":{"field":"x","type":"quantitative","scale":{"domain":[-0.043,0.0395],"nice":false,"zero":false},"axis":{"title":"down1.0.weight/auto/histogram","values":[-0.04,-0.02,0,0.02,0.03889],"labelExpr":"datum.value==-0.04?'-0.04':datum.value==-0.02?'-0.02':datum.value==0?'0':datum.value==0.02?'0.02':'3.889e-2'"}},"y":{"field":"v","type":"quantitative","axis":null,"scale":{"domain":[0,100],"range":[4,-96]}},"color":{"field":"k","type":"ordinal","legend":null}}},
{"transform":[{"filter":"datum.k=='A'&&datum.x==-0.043"}],"mark":{"type":"point","shape":"M-1,0Q0,-1.5,1,0Q0,1.5,-1,0ZM-0.4,0A0.4,0.4,0,1,0,0.4,0A0.4,0.4,0,1,0,-0.4,0Z","filled":false,"stroke":"#555555","strokeWidth":1.2,"size":144},"encoding":{"x":{"datum":0.04533,"type":"quantitative"},"y":{"datum":74,"type":"quantitative"}}}
]}},
{"transform":[{"filter":"datum.p==4"}],"bounds":"flush","spacing":0.63,"facet":{"row":{"field":"k","type":"ordinal","title":null,"header":{"labelAngle":0,"labelOrient":"right","labelAlign":"right","labelAnchor":"end","labelBaseline":"middle","labelPadding":5,"labelColor":"#9a9aa5","labelFont":"Noto Sans","labelFontSize":9.5,"labelExpr":"{A:'874',D:'3496',G:'6118',J:'8740',M:'11362',P:'13984',S:'16606',V:'19228',Y:'21850',b:'24472'}[datum.value]||''"}}},
"spec":{"width":495,"height":4,"layer":[
{"mark":{"type":"area","stroke":"#c5cfcd","strokeWidth":1},"encoding":{"x":{"field":"x","type":"quantitative","scale":{"domain":[-0.03967,0.04475],"nice":false,"zero":false},"axis":{"title":"down2.0.weight/auto/histogram","values":[-0.03967,-0.02,0,0.02,0.04,0.04475],"labelExpr":"datum.value==-0.03967?'-3.967e-2':datum.value==-0.02?'-0.02':datum.value==0?'0':datum.value==0.02?'0.02':datum.value==0.04?'0.04':'4.475e-2'"}},"y":{"field":"v","type":"quantitative","axis":null,"scale":{"domain":[0,100],"range":[4,-96]}},"color":{"field":"k","type":"ordinal","legend":null}}},
{"transform":[{"filter":"datum.k=='A'&&datum.x==-0.03967"}],"mark":{"type":"point","shape":"M-1,0Q0,-1.5,1,0Q0,1.5,-1,0ZM-0.4,0A0.4,0.4,0,1,0,0.4,0A0.4,0.4,0,1,0,-0.4,0Z","filled":false,"stroke":"#555555","strokeWidth":1.2,"size":144},"encoding":{"x":{"datum":0.05072,"type":"quantitative"},"y":{"datum":74,"type":"quantitative"}}}
]}},
{"transform":[{"filter":"datum.p==5"}],"bounds":"flush","spacing":0.63,"facet":{"row":{"field":"k","type":"ordinal","title":null,"header":{"labelAngle":0,"labelOrient":"right","labelAlign":"right","labelAnchor":"end","labelBaseline":"middle","labelPadding":5,"labelColor":"#9a9aa5","labelFont":"Noto Sans","labelFontSize":9.5,"labelExpr":"{A:'874',D:'3496',G:'6118',J:'8740',M:'11362',P:'13984',S:'16606',V:'19228',Y:'21850',b:'24472'}[datum.value]||''"}}},
"spec":{"width":495,"height":4,"layer":[
{"mark":{"type":"area","stroke":"#c5cfcd","strokeWidth":1},"encoding":{"x":{"field":"x","type":"quantitative","scale":{"domain":[-0.04625,0.0425],"nice":false,"zero":false},"axis":{"title":"down3.0.weight/auto/histogram","values":[-0.04625,-0.04,-0.02,0,0.02,0.04],"labelExpr":"datum.value==-0.04625?'-4.625e-2':datum.value==-0.04?'-0.04':datum.value==-0.02?'-0.02':datum.value==0?'0':datum.value==0.02?'0.02':'0.04'"}},"y":{"field":"v","type":"quantitative","axis":null,"scale":{"domain":[0,100],"range":[4,-96]}},"color":{"field":"k","type":"ordinal","legend":null}}},
{"transform":[{"filter":"datum.k=='A'&&datum.x==-0.04625"}],"mark":{"type":"point","shape":"M-1,0Q0,-1.5,1,0Q0,1.5,-1,0ZM-0.4,0A0.4,0.4,0,1,0,0.4,0A0.4,0.4,0,1,0,-0.4,0Z","filled":false,"stroke":"#555555","strokeWidth":1.2,"size":144},"encoding":{"x":{"datum":0.04878,"type":"quantitative"},"y":{"datum":74,"type":"quantitative"}}}
]}},
{"width":495,"height":129.6,"data":{"values":[{"t":"Total 5","a":1693,"b":666,"c":"#555555"},{"t":"<","a":1726,"b":666,"c":"#bbbbbb"},{"t":"1","a":1752,"b":666,"c":"#2e8b7a"},{"t":">","a":1775,"b":666,"c":"#777777"},{"t":"Go to","a":1818,"b":666,"c":"#555555"},{"t":"1","a":1852,"b":666,"c":"#555555"}]},"layer":[
{"data":{"values":[{"a":1278,"a2":1299,"b":500,"b2":510}]},"mark":{"type":"rect","fill":"white"},"encoding":{"x":{"field":"a","type":"quantitative","scale":{"domain":[1299,1794],"nice":false,"zero":false},"axis":null},"x2":{"field":"a2"},"y":{"field":"b","type":"quantitative","scale":{"domain":[425.9,555.5],"reverse":true,"nice":false,"zero":false},"axis":null},"y2":{"field":"b2"}}},
{"data":{"values":[{"a":1833,"a2":1864,"b":657,"b2":670}]},"mark":{"type":"rect","fill":"white","stroke":"#dddddd"},"encoding":{"x":{"field":"a","type":"quantitative","axis":null},"x2":{"field":"a2"},"y":{"field":"b","type":"quantitative","axis":null},"y2":{"field":"b2"}}},
{"mark":{"type":"text","font":"Noto Sans","fontSize":10,"baseline":"middle"},"encoding":{"x":{"field":"a","type":"quantitative","axis":null},"y":{"field":"b","type":"quantitative","axis":null},"text":{"field":"t"},"color":{"field":"c","type":"nominal","scale":null}}}
]}
]}
